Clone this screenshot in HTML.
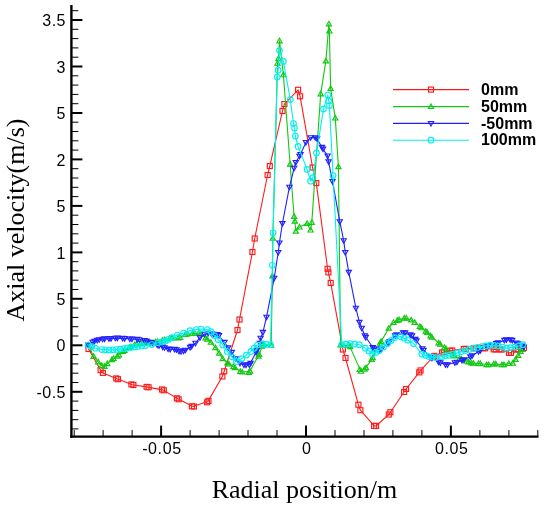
<!DOCTYPE html>
<html><head><meta charset="utf-8"><style>
html,body{margin:0;padding:0;background:#fff;}
svg{display:block;filter:blur(0.3px);}
.tl{font-family:"Liberation Sans",Arial,sans-serif;font-size:16px;fill:#000;}
.xl{letter-spacing:0.6px;}
.yl{letter-spacing:0.5px;}
.lg{font-family:"Liberation Sans",Arial,sans-serif;font-size:16px;font-weight:bold;letter-spacing:0px;fill:#000;}
.tt{font-family:"Liberation Serif","Times New Roman",serif;font-size:26px;fill:#000;}
polyline{fill:none;stroke-width:1.1;stroke-linejoin:round;}
</style></head><body>
<svg width="550" height="510" viewBox="0 0 550 510">
<rect width="550" height="510" fill="#fff"/>
<line x1="71.4" y1="5.0" x2="71.4" y2="437.70000000000005" stroke="#000" stroke-width="2.4"/>
<line x1="70.2" y1="436.6" x2="538.5" y2="436.6" stroke="#000" stroke-width="2.2"/>
<line x1="74.2" y1="436.6" x2="74.2" y2="430.1" stroke="#000" stroke-width="1"/>
<line x1="103.1" y1="436.6" x2="103.1" y2="430.1" stroke="#000" stroke-width="1"/>
<line x1="132.1" y1="436.6" x2="132.1" y2="430.1" stroke="#000" stroke-width="1"/>
<line x1="161.1" y1="436.6" x2="161.1" y2="425.6" stroke="#000" stroke-width="2"/>
<line x1="190.1" y1="436.6" x2="190.1" y2="430.1" stroke="#000" stroke-width="1"/>
<line x1="219.1" y1="436.6" x2="219.1" y2="430.1" stroke="#000" stroke-width="1"/>
<line x1="248.0" y1="436.6" x2="248.0" y2="430.1" stroke="#000" stroke-width="1"/>
<line x1="277.0" y1="436.6" x2="277.0" y2="430.1" stroke="#000" stroke-width="1"/>
<line x1="306.0" y1="436.6" x2="306.0" y2="425.6" stroke="#000" stroke-width="2"/>
<line x1="335.0" y1="436.6" x2="335.0" y2="430.1" stroke="#000" stroke-width="1"/>
<line x1="364.0" y1="436.6" x2="364.0" y2="430.1" stroke="#000" stroke-width="1"/>
<line x1="392.9" y1="436.6" x2="392.9" y2="430.1" stroke="#000" stroke-width="1"/>
<line x1="421.9" y1="436.6" x2="421.9" y2="430.1" stroke="#000" stroke-width="1"/>
<line x1="450.9" y1="436.6" x2="450.9" y2="425.6" stroke="#000" stroke-width="2"/>
<line x1="479.9" y1="436.6" x2="479.9" y2="430.1" stroke="#000" stroke-width="1"/>
<line x1="508.9" y1="436.6" x2="508.9" y2="430.1" stroke="#000" stroke-width="1"/>
<line x1="537.8" y1="436.6" x2="537.8" y2="430.1" stroke="#000" stroke-width="1"/>
<line x1="71.4" y1="428.9" x2="78.4" y2="428.9" stroke="#000" stroke-width="1"/>
<line x1="71.4" y1="419.7" x2="78.4" y2="419.7" stroke="#000" stroke-width="1"/>
<line x1="71.4" y1="410.4" x2="78.4" y2="410.4" stroke="#000" stroke-width="1"/>
<line x1="71.4" y1="401.1" x2="78.4" y2="401.1" stroke="#000" stroke-width="1"/>
<line x1="71.4" y1="391.8" x2="82.4" y2="391.8" stroke="#000" stroke-width="2"/>
<line x1="71.4" y1="382.5" x2="78.4" y2="382.5" stroke="#000" stroke-width="1"/>
<line x1="71.4" y1="373.2" x2="78.4" y2="373.2" stroke="#000" stroke-width="1"/>
<line x1="71.4" y1="363.9" x2="78.4" y2="363.9" stroke="#000" stroke-width="1"/>
<line x1="71.4" y1="354.6" x2="78.4" y2="354.6" stroke="#000" stroke-width="1"/>
<line x1="71.4" y1="345.3" x2="82.4" y2="345.3" stroke="#000" stroke-width="2"/>
<line x1="71.4" y1="336.0" x2="78.4" y2="336.0" stroke="#000" stroke-width="1"/>
<line x1="71.4" y1="326.7" x2="78.4" y2="326.7" stroke="#000" stroke-width="1"/>
<line x1="71.4" y1="317.4" x2="78.4" y2="317.4" stroke="#000" stroke-width="1"/>
<line x1="71.4" y1="308.1" x2="78.4" y2="308.1" stroke="#000" stroke-width="1"/>
<line x1="71.4" y1="298.8" x2="82.4" y2="298.8" stroke="#000" stroke-width="2"/>
<line x1="71.4" y1="289.5" x2="78.4" y2="289.5" stroke="#000" stroke-width="1"/>
<line x1="71.4" y1="280.2" x2="78.4" y2="280.2" stroke="#000" stroke-width="1"/>
<line x1="71.4" y1="270.9" x2="78.4" y2="270.9" stroke="#000" stroke-width="1"/>
<line x1="71.4" y1="261.7" x2="78.4" y2="261.7" stroke="#000" stroke-width="1"/>
<line x1="71.4" y1="252.4" x2="82.4" y2="252.4" stroke="#000" stroke-width="2"/>
<line x1="71.4" y1="243.1" x2="78.4" y2="243.1" stroke="#000" stroke-width="1"/>
<line x1="71.4" y1="233.8" x2="78.4" y2="233.8" stroke="#000" stroke-width="1"/>
<line x1="71.4" y1="224.5" x2="78.4" y2="224.5" stroke="#000" stroke-width="1"/>
<line x1="71.4" y1="215.2" x2="78.4" y2="215.2" stroke="#000" stroke-width="1"/>
<line x1="71.4" y1="205.9" x2="82.4" y2="205.9" stroke="#000" stroke-width="2"/>
<line x1="71.4" y1="196.6" x2="78.4" y2="196.6" stroke="#000" stroke-width="1"/>
<line x1="71.4" y1="187.3" x2="78.4" y2="187.3" stroke="#000" stroke-width="1"/>
<line x1="71.4" y1="178.0" x2="78.4" y2="178.0" stroke="#000" stroke-width="1"/>
<line x1="71.4" y1="168.7" x2="78.4" y2="168.7" stroke="#000" stroke-width="1"/>
<line x1="71.4" y1="159.4" x2="82.4" y2="159.4" stroke="#000" stroke-width="2"/>
<line x1="71.4" y1="150.1" x2="78.4" y2="150.1" stroke="#000" stroke-width="1"/>
<line x1="71.4" y1="140.8" x2="78.4" y2="140.8" stroke="#000" stroke-width="1"/>
<line x1="71.4" y1="131.5" x2="78.4" y2="131.5" stroke="#000" stroke-width="1"/>
<line x1="71.4" y1="122.2" x2="78.4" y2="122.2" stroke="#000" stroke-width="1"/>
<line x1="71.4" y1="113.0" x2="82.4" y2="113.0" stroke="#000" stroke-width="2"/>
<line x1="71.4" y1="103.7" x2="78.4" y2="103.7" stroke="#000" stroke-width="1"/>
<line x1="71.4" y1="94.4" x2="78.4" y2="94.4" stroke="#000" stroke-width="1"/>
<line x1="71.4" y1="85.1" x2="78.4" y2="85.1" stroke="#000" stroke-width="1"/>
<line x1="71.4" y1="75.8" x2="78.4" y2="75.8" stroke="#000" stroke-width="1"/>
<line x1="71.4" y1="66.5" x2="82.4" y2="66.5" stroke="#000" stroke-width="2"/>
<line x1="71.4" y1="57.2" x2="78.4" y2="57.2" stroke="#000" stroke-width="1"/>
<line x1="71.4" y1="47.9" x2="78.4" y2="47.9" stroke="#000" stroke-width="1"/>
<line x1="71.4" y1="38.6" x2="78.4" y2="38.6" stroke="#000" stroke-width="1"/>
<line x1="71.4" y1="29.3" x2="78.4" y2="29.3" stroke="#000" stroke-width="1"/>
<line x1="71.4" y1="20.0" x2="82.4" y2="20.0" stroke="#000" stroke-width="2"/>
<line x1="71.4" y1="10.7" x2="78.4" y2="10.7" stroke="#000" stroke-width="1"/>
<text x="66.0" y="26.1" text-anchor="end" class="tl yl">3.5</text>
<text x="66.0" y="72.6" text-anchor="end" class="tl yl">3</text>
<text x="66.0" y="119.1" text-anchor="end" class="tl yl">5</text>
<text x="66.0" y="165.5" text-anchor="end" class="tl yl">2</text>
<text x="66.0" y="212.0" text-anchor="end" class="tl yl">5</text>
<text x="66.0" y="258.5" text-anchor="end" class="tl yl">1</text>
<text x="66.0" y="304.9" text-anchor="end" class="tl yl">5</text>
<text x="66.0" y="351.4" text-anchor="end" class="tl yl">0</text>
<text x="66.0" y="397.9" text-anchor="end" class="tl yl">-0.5</text>
<text x="161.9" y="453.8" text-anchor="middle" class="tl xl">-0.05</text>
<text x="306.8" y="453.8" text-anchor="middle" class="tl xl">0</text>
<text x="451.7" y="453.8" text-anchor="middle" class="tl xl">0.05</text>
<text x="304.5" y="497.8" text-anchor="middle" class="tt">Radial position/m</text>
<text transform="translate(24.3,220) rotate(-90)" text-anchor="middle" class="tt">Axial velocity(m/s)</text>
<polyline points="88.5,349.0 100.6,370.1 102.9,372.9 117.1,378.8 132.4,384.7 147.6,387.1 162.9,389.9 177.8,398.8 192.9,406.4 207.8,401.6 222.4,376.5 224.2,371.3 237.5,330.0 239.5,319.5 252.4,252.0 254.7,238.5 267.6,175.0 269.8,166.0 282.5,111.0 284.4,104.1 298.1,89.8 300.1,96.3 312.6,167.5 316.3,183.1 327.6,268.8 328.4,272.4 330.7,282.9 342.9,349.5 345.5,358.0 358.4,404.7 360.4,410.2 374.1,425.9 376.1,425.9 388.8,414.5 390.4,412.2 404.1,392.0 406.1,389.0 419.2,372.4 420.6,370.4 433.5,356.5 442.9,352.2 451.2,350.6 464.8,348.9 474.7,348.2 484.1,348.2 494.7,349.4 500.6,349.4 510.0,352.9 517.1,349.4 522.9,348.2" stroke="#ff1a1a"/>
<g stroke="#ff1a1a" fill="none" stroke-width="1.15"><rect x="86.0" y="346.5" width="5.0" height="5.0"/><rect x="98.1" y="367.6" width="5.0" height="5.0"/><rect x="100.4" y="370.4" width="5.0" height="5.0"/><rect x="113.7" y="375.9" width="5.0" height="5.0"/><rect x="115.5" y="376.7" width="5.0" height="5.0"/><rect x="128.9" y="381.9" width="5.0" height="5.0"/><rect x="130.9" y="382.5" width="5.0" height="5.0"/><rect x="144.1" y="384.4" width="5.0" height="5.0"/><rect x="146.1" y="384.8" width="5.0" height="5.0"/><rect x="159.5" y="387.0" width="5.0" height="5.0"/><rect x="161.3" y="387.8" width="5.0" height="5.0"/><rect x="174.4" y="395.8" width="5.0" height="5.0"/><rect x="176.2" y="396.8" width="5.0" height="5.0"/><rect x="189.4" y="403.8" width="5.0" height="5.0"/><rect x="191.4" y="404.0" width="5.0" height="5.0"/><rect x="204.6" y="399.8" width="5.0" height="5.0"/><rect x="206.0" y="398.4" width="5.0" height="5.0"/><rect x="219.9" y="374.0" width="5.0" height="5.0"/><rect x="221.7" y="368.8" width="5.0" height="5.0"/><rect x="235.0" y="327.5" width="5.0" height="5.0"/><rect x="237.0" y="317.0" width="5.0" height="5.0"/><rect x="249.9" y="249.5" width="5.0" height="5.0"/><rect x="252.2" y="236.0" width="5.0" height="5.0"/><rect x="265.1" y="172.5" width="5.0" height="5.0"/><rect x="267.3" y="163.5" width="5.0" height="5.0"/><rect x="280.0" y="108.5" width="5.0" height="5.0"/><rect x="281.9" y="101.6" width="5.0" height="5.0"/><rect x="295.6" y="87.3" width="5.0" height="5.0"/><rect x="297.6" y="93.8" width="5.0" height="5.0"/><rect x="310.1" y="165.0" width="5.0" height="5.0"/><rect x="313.8" y="180.6" width="5.0" height="5.0"/><rect x="325.1" y="266.3" width="5.0" height="5.0"/><rect x="325.9" y="269.9" width="5.0" height="5.0"/><rect x="328.2" y="280.4" width="5.0" height="5.0"/><rect x="340.4" y="347.0" width="5.0" height="5.0"/><rect x="343.0" y="355.5" width="5.0" height="5.0"/><rect x="355.9" y="402.2" width="5.0" height="5.0"/><rect x="357.9" y="407.7" width="5.0" height="5.0"/><rect x="371.6" y="423.4" width="5.0" height="5.0"/><rect x="373.6" y="423.4" width="5.0" height="5.0"/><rect x="386.3" y="412.0" width="5.0" height="5.0"/><rect x="387.9" y="409.7" width="5.0" height="5.0"/><rect x="401.6" y="389.5" width="5.0" height="5.0"/><rect x="403.6" y="386.5" width="5.0" height="5.0"/><rect x="416.7" y="369.9" width="5.0" height="5.0"/><rect x="418.1" y="367.9" width="5.0" height="5.0"/><rect x="430.2" y="354.6" width="5.0" height="5.0"/><rect x="431.8" y="353.4" width="5.0" height="5.0"/><rect x="439.5" y="350.0" width="5.0" height="5.0"/><rect x="441.3" y="349.4" width="5.0" height="5.0"/><rect x="447.7" y="348.2" width="5.0" height="5.0"/><rect x="449.7" y="348.0" width="5.0" height="5.0"/><rect x="461.3" y="346.5" width="5.0" height="5.0"/><rect x="463.3" y="346.3" width="5.0" height="5.0"/><rect x="471.2" y="345.7" width="5.0" height="5.0"/><rect x="473.2" y="345.7" width="5.0" height="5.0"/><rect x="480.6" y="345.6" width="5.0" height="5.0"/><rect x="482.6" y="345.8" width="5.0" height="5.0"/><rect x="491.2" y="346.8" width="5.0" height="5.0"/><rect x="493.2" y="347.0" width="5.0" height="5.0"/><rect x="497.1" y="346.7" width="5.0" height="5.0"/><rect x="499.1" y="347.1" width="5.0" height="5.0"/><rect x="506.5" y="350.4" width="5.0" height="5.0"/><rect x="508.5" y="350.4" width="5.0" height="5.0"/><rect x="513.7" y="347.2" width="5.0" height="5.0"/><rect x="515.5" y="346.6" width="5.0" height="5.0"/><rect x="519.4" y="345.9" width="5.0" height="5.0"/><rect x="521.4" y="345.5" width="5.0" height="5.0"/></g>

<polyline points="88.2,345.0 93.6,356.4 98.2,361.8 101.8,365.5 104.5,366.5 107.3,363.6 112.7,359.1 118.2,355.5 123.6,350.9 130.0,347.3 135.5,344.5 141.8,343.3 149.1,342.7 156.4,341.8 163.6,340.0 170.9,338.2 179.1,337.7 186.4,334.1 193.6,333.2 200.0,333.2 206.4,338.6 210.9,342.3 215.5,347.7 219.1,353.2 222.7,358.6 228.2,363.5 234.1,367.1 241.2,371.8 249.4,371.8 258.8,355.3 262.6,345.6 271.2,345.3 272.4,275.9 272.8,238.2 277.5,63.3 278.5,58.4 279.5,40.8 283.4,74.7 290.1,164.2 294.1,216.5 294.8,221.2 295.8,231.2 299.5,227.1 307.1,223.5 310.6,230.1 311.8,222.4 320.7,93.8 325.9,60.9 328.9,23.9 329.4,31.0 330.6,88.4 335.3,118.1 338.4,166.7 340.6,345.0 349.6,345.9 360.4,370.4 365.3,368.4 372.2,358.6 380.6,342.4 388.8,328.2 393.5,322.4 398.2,320.0 405.3,318.1 411.2,320.0 414.7,322.4 420.6,327.1 426.5,331.8 431.2,336.5 439.4,343.5 445.3,348.2 453.5,355.3 460.6,358.8 467.6,361.6 472.4,363.1 479.4,363.5 487.6,364.7 494.7,364.0 502.9,364.7 508.8,363.5 512.7,363.2 515.5,359.5 518.2,355.5 520.5,351.5 522.5,349.5" stroke="#12c812"/>
<g stroke="#12c812" fill="none" stroke-width="1.15"><path d="M88.2,342.4L90.8,346.9L85.6,346.9Z"/><path d="M93.6,353.8L96.2,358.3L91.0,358.3Z"/><path d="M98.2,359.2L100.8,363.8L95.6,363.8Z"/><path d="M101.8,362.9L104.4,367.4L99.2,367.4Z"/><path d="M104.5,363.9L107.1,368.4L101.9,368.4Z"/><path d="M107.3,361.0L109.9,365.6L104.7,365.6Z"/><path d="M111.9,357.1L114.5,361.6L109.3,361.6Z"/><path d="M113.5,355.9L116.1,360.5L110.9,360.5Z"/><path d="M117.4,353.5L120.0,358.1L114.8,358.1Z"/><path d="M119.0,352.3L121.6,356.8L116.4,356.8Z"/><path d="M122.8,348.9L125.4,353.4L120.2,353.4Z"/><path d="M124.4,347.7L127.0,352.3L121.8,352.3Z"/><path d="M129.1,345.2L131.7,349.7L126.5,349.7Z"/><path d="M130.9,344.2L133.5,348.8L128.3,348.8Z"/><path d="M134.6,342.2L137.2,346.8L132.0,346.8Z"/><path d="M136.4,341.6L139.0,346.1L133.8,346.1Z"/><path d="M140.8,340.8L143.4,345.4L138.2,345.4Z"/><path d="M142.8,340.6L145.4,345.1L140.2,345.1Z"/><path d="M148.1,340.2L150.7,344.8L145.5,344.8Z"/><path d="M150.1,340.0L152.7,344.5L147.5,344.5Z"/><path d="M155.4,339.4L158.0,343.9L152.8,343.9Z"/><path d="M157.4,339.0L160.0,343.6L154.8,343.6Z"/><path d="M162.6,337.6L165.2,342.2L160.0,342.2Z"/><path d="M164.6,337.2L167.2,341.7L162.0,341.7Z"/><path d="M169.9,335.7L172.5,340.3L167.3,340.3Z"/><path d="M171.9,335.5L174.5,340.0L169.3,340.0Z"/><path d="M178.1,335.4L180.7,339.9L175.5,339.9Z"/><path d="M180.1,334.8L182.7,339.4L177.5,339.4Z"/><path d="M185.4,331.8L188.0,336.3L182.8,336.3Z"/><path d="M187.4,331.2L190.0,335.8L184.8,335.8Z"/><path d="M192.6,330.7L195.2,335.2L190.0,335.2Z"/><path d="M194.6,330.5L197.2,335.1L192.0,335.1Z"/><path d="M199.1,330.2L201.7,334.8L196.5,334.8Z"/><path d="M200.9,331.0L203.5,335.5L198.3,335.5Z"/><path d="M205.6,335.4L208.2,339.9L203.0,339.9Z"/><path d="M207.2,336.6L209.8,341.2L204.6,341.2Z"/><path d="M210.9,339.7L213.5,344.2L208.3,344.2Z"/><path d="M215.5,345.1L218.1,349.6L212.9,349.6Z"/><path d="M219.1,350.6L221.7,355.1L216.5,355.1Z"/><path d="M222.7,356.0L225.3,360.6L220.1,360.6Z"/><path d="M227.4,360.3L230.0,364.9L224.8,364.9Z"/><path d="M229.0,361.5L231.6,366.0L226.4,366.0Z"/><path d="M233.3,364.0L235.9,368.5L230.7,368.5Z"/><path d="M234.9,365.0L237.5,369.6L232.3,369.6Z"/><path d="M240.2,368.9L242.8,373.5L237.6,373.5Z"/><path d="M242.2,369.5L244.8,374.0L239.6,374.0Z"/><path d="M248.7,369.9L251.3,374.4L246.1,374.4Z"/><path d="M250.1,368.5L252.7,373.1L247.5,373.1Z"/><path d="M258.4,353.6L261.0,358.1L255.8,358.1Z"/><path d="M259.2,351.8L261.8,356.4L256.6,356.4Z"/><path d="M261.8,343.6L264.4,348.2L259.2,348.2Z"/><path d="M263.4,342.4L266.0,346.9L260.8,346.9Z"/><path d="M271.2,342.7L273.8,347.2L268.6,347.2Z"/><path d="M272.4,273.3L275.0,277.8L269.8,277.8Z"/><path d="M272.8,235.6L275.4,240.1L270.2,240.1Z"/><path d="M277.5,60.7L280.1,65.2L274.9,65.2Z"/><path d="M278.5,55.8L281.1,60.4L275.9,60.4Z"/><path d="M279.5,38.2L282.1,42.8L276.9,42.8Z"/><path d="M283.4,72.1L286.0,76.7L280.8,76.7Z"/><path d="M290.1,161.6L292.7,166.1L287.5,166.1Z"/><path d="M294.1,213.9L296.7,218.4L291.5,218.4Z"/><path d="M294.8,218.6L297.4,223.1L292.2,223.1Z"/><path d="M295.8,228.6L298.4,233.1L293.2,233.1Z"/><path d="M299.5,224.5L302.1,229.0L296.9,229.0Z"/><path d="M307.1,220.9L309.7,225.4L304.5,225.4Z"/><path d="M310.6,227.5L313.2,232.0L308.0,232.0Z"/><path d="M311.8,219.8L314.4,224.3L309.2,224.3Z"/><path d="M320.7,91.2L323.3,95.8L318.1,95.8Z"/><path d="M325.9,58.3L328.5,62.9L323.3,62.9Z"/><path d="M328.9,21.3L331.5,25.8L326.3,25.8Z"/><path d="M329.4,28.4L332.0,33.0L326.8,33.0Z"/><path d="M330.6,85.8L333.2,90.4L328.0,90.4Z"/><path d="M335.3,115.5L337.9,120.0L332.7,120.0Z"/><path d="M338.4,164.1L341.0,168.6L335.8,168.6Z"/><path d="M340.6,342.4L343.2,346.9L338.0,346.9Z"/><path d="M349.0,342.5L351.6,347.1L346.4,347.1Z"/><path d="M350.2,344.1L352.8,348.6L347.6,348.6Z"/><path d="M359.8,367.0L362.4,371.5L357.2,371.5Z"/><path d="M361.0,368.6L363.6,373.2L358.4,373.2Z"/><path d="M364.6,366.5L367.2,371.1L362.0,371.1Z"/><path d="M366.0,365.1L368.6,369.6L363.4,369.6Z"/><path d="M371.7,356.9L374.3,361.4L369.1,361.4Z"/><path d="M372.7,355.1L375.3,359.7L370.1,359.7Z"/><path d="M380.1,340.7L382.7,345.2L377.5,345.2Z"/><path d="M381.1,338.9L383.7,343.5L378.5,343.5Z"/><path d="M388.8,325.6L391.4,330.1L386.2,330.1Z"/><path d="M393.5,319.8L396.1,324.3L390.9,324.3Z"/><path d="M397.3,317.7L399.9,322.3L394.7,322.3Z"/><path d="M399.1,317.1L401.7,321.6L396.5,321.6Z"/><path d="M404.3,315.5L406.9,320.1L401.7,320.1Z"/><path d="M406.3,315.5L408.9,320.1L403.7,320.1Z"/><path d="M411.2,317.4L413.8,321.9L408.6,321.9Z"/><path d="M414.7,319.8L417.3,324.3L412.1,324.3Z"/><path d="M419.8,323.9L422.4,328.4L417.2,328.4Z"/><path d="M421.4,325.1L424.0,329.7L418.8,329.7Z"/><path d="M425.8,328.5L428.4,333.1L423.2,333.1Z"/><path d="M427.2,329.9L429.8,334.4L424.6,334.4Z"/><path d="M430.5,333.2L433.1,337.8L427.9,337.8Z"/><path d="M431.9,334.6L434.5,339.1L429.3,339.1Z"/><path d="M438.6,340.3L441.2,344.8L436.0,344.8Z"/><path d="M440.2,341.5L442.8,346.1L437.6,346.1Z"/><path d="M444.5,345.0L447.1,349.5L441.9,349.5Z"/><path d="M446.1,346.2L448.7,350.8L443.5,350.8Z"/><path d="M452.7,352.1L455.3,356.7L450.1,356.7Z"/><path d="M454.3,353.3L456.9,357.8L451.7,357.8Z"/><path d="M459.7,355.8L462.3,360.3L457.1,360.3Z"/><path d="M461.5,356.6L464.1,361.2L458.9,361.2Z"/><path d="M466.7,358.7L469.3,363.2L464.1,363.2Z"/><path d="M468.5,359.3L471.1,363.9L465.9,363.9Z"/><path d="M471.4,360.3L474.0,364.9L468.8,364.9Z"/><path d="M473.4,360.7L476.0,365.2L470.8,365.2Z"/><path d="M478.4,360.8L481.0,365.3L475.8,365.3Z"/><path d="M480.4,361.0L483.0,365.6L477.8,365.6Z"/><path d="M486.6,362.1L489.2,366.6L484.0,366.6Z"/><path d="M488.6,362.1L491.2,366.7L486.0,366.7Z"/><path d="M493.7,361.4L496.3,365.9L491.1,365.9Z"/><path d="M495.7,361.4L498.3,365.9L493.1,365.9Z"/><path d="M501.9,362.1L504.5,366.7L499.3,366.7Z"/><path d="M503.9,362.1L506.5,366.6L501.3,366.6Z"/><path d="M508.8,360.9L511.4,365.4L506.2,365.4Z"/><path d="M512.7,360.6L515.3,365.1L510.1,365.1Z"/><path d="M515.5,356.9L518.1,361.4L512.9,361.4Z"/><path d="M518.2,352.9L520.8,357.4L515.6,357.4Z"/><path d="M520.5,348.9L523.1,353.4L517.9,353.4Z"/><path d="M522.5,346.9L525.1,351.4L519.9,351.4Z"/></g>

<polyline points="88.2,345.0 93.6,341.7 98.2,339.9 103.6,339.0 110.0,338.6 116.4,338.1 123.6,338.4 130.9,339.0 138.2,339.5 145.5,340.8 151.8,342.6 158.2,345.3 163.6,347.3 169.1,349.1 175.5,349.5 180.0,351.4 184.5,350.5 190.9,346.8 195.5,343.2 200.0,337.7 204.5,334.1 208.2,333.2 212.7,334.1 218.2,335.0 224.5,342.3 228.2,347.7 231.8,352.3 235.5,358.6 240.0,363.2 245.0,365.0 250.0,364.1 256.4,351.4 260.0,343.2 260.6,338.2 262.9,332.4 266.5,317.1 274.2,278.2 278.2,252.4 279.4,242.9 282.4,223.5 289.4,187.1 294.1,168.2 295.8,162.4 300.0,155.3 305.9,142.4 310.6,137.6 315.3,137.6 317.1,138.8 322.5,148.2 327.6,155.9 328.6,161.8 332.5,181.4 339.8,221.6 343.7,240.6 345.3,252.4 348.8,272.4 355.9,308.2 359.4,322.4 361.8,328.2 365.3,336.5 373.5,348.2 380.6,349.4 388.8,342.4 395.9,335.3 404.1,332.9 411.2,335.3 415.9,340.0 422.9,349.4 431.2,357.6 439.4,362.4 446.5,364.7 455.9,362.4 462.9,360.0 471.2,356.3 479.4,351.0 487.6,346.2 497.1,343.2 505.3,340.0 511.2,340.0 517.1,343.4 522.9,346.5" stroke="#2020ff"/>
<g stroke="#2020ff" fill="none" stroke-width="1.15"><path d="M88.2,347.6L90.8,343.1L85.6,343.1Z"/><path d="M92.7,344.8L95.3,340.2L90.1,340.2Z"/><path d="M94.5,343.8L97.1,339.3L91.9,339.3Z"/><path d="M97.2,342.8L99.8,338.2L94.6,338.2Z"/><path d="M99.2,342.2L101.8,337.7L96.6,337.7Z"/><path d="M102.6,341.7L105.2,337.2L100.0,337.2Z"/><path d="M104.6,341.5L107.2,336.9L102.0,336.9Z"/><path d="M109.0,341.3L111.6,336.7L106.4,336.7Z"/><path d="M111.0,341.1L113.6,336.6L108.4,336.6Z"/><path d="M115.4,340.7L118.0,336.2L112.8,336.2Z"/><path d="M117.4,340.7L120.0,336.1L114.8,336.1Z"/><path d="M122.6,340.9L125.2,336.4L120.0,336.4Z"/><path d="M124.6,341.1L127.2,336.5L122.0,336.5Z"/><path d="M129.9,341.5L132.5,337.0L127.3,337.0Z"/><path d="M131.9,341.7L134.5,337.1L129.3,337.1Z"/><path d="M137.2,342.0L139.8,337.4L134.6,337.4Z"/><path d="M139.2,342.2L141.8,337.7L136.6,337.7Z"/><path d="M144.5,343.2L147.1,338.6L141.9,338.6Z"/><path d="M146.5,343.6L149.1,339.1L143.9,339.1Z"/><path d="M150.9,344.9L153.5,340.3L148.3,340.3Z"/><path d="M152.7,345.5L155.3,341.0L150.1,341.0Z"/><path d="M157.3,347.5L159.9,343.0L154.7,343.0Z"/><path d="M159.1,348.3L161.7,343.7L156.5,343.7Z"/><path d="M162.7,349.6L165.3,345.0L160.1,345.0Z"/><path d="M164.5,350.2L167.1,345.7L161.9,345.7Z"/><path d="M168.1,351.5L170.7,347.0L165.5,347.0Z"/><path d="M170.1,351.9L172.7,347.3L167.5,347.3Z"/><path d="M174.5,351.9L177.1,347.3L171.9,347.3Z"/><path d="M176.5,352.3L179.1,347.8L173.9,347.8Z"/><path d="M179.0,353.9L181.6,349.3L176.4,349.3Z"/><path d="M181.0,354.1L183.6,349.6L178.4,349.6Z"/><path d="M183.6,353.5L186.2,348.9L181.0,348.9Z"/><path d="M185.4,352.7L188.0,348.2L182.8,348.2Z"/><path d="M190.1,350.0L192.7,345.4L187.5,345.4Z"/><path d="M191.7,348.8L194.3,344.3L189.1,344.3Z"/><path d="M195.5,345.8L198.1,341.2L192.9,341.2Z"/><path d="M200.0,340.3L202.6,335.8L197.4,335.8Z"/><path d="M204.5,336.7L207.1,332.2L201.9,332.2Z"/><path d="M208.2,335.8L210.8,331.2L205.6,331.2Z"/><path d="M211.7,336.5L214.3,332.0L209.1,332.0Z"/><path d="M213.7,336.9L216.3,332.3L211.1,332.3Z"/><path d="M217.4,337.0L220.0,332.5L214.8,332.5Z"/><path d="M219.0,338.2L221.6,333.6L216.4,333.6Z"/><path d="M224.5,344.9L227.1,340.4L221.9,340.4Z"/><path d="M228.2,350.3L230.8,345.8L225.6,345.8Z"/><path d="M231.8,354.9L234.4,350.4L229.2,350.4Z"/><path d="M235.5,361.2L238.1,356.7L232.9,356.7Z"/><path d="M240.0,365.8L242.6,361.2L237.4,361.2Z"/><path d="M244.0,367.5L246.6,363.0L241.4,363.0Z"/><path d="M246.0,367.7L248.6,363.1L243.4,363.1Z"/><path d="M249.4,367.5L252.0,362.9L246.8,362.9Z"/><path d="M250.6,365.9L253.2,361.4L248.0,361.4Z"/><path d="M256.0,354.9L258.6,350.4L253.4,350.4Z"/><path d="M256.8,353.1L259.4,348.5L254.2,348.5Z"/><path d="M260.0,345.8L262.6,341.2L257.4,341.2Z"/><path d="M260.6,340.8L263.2,336.2L258.0,336.2Z"/><path d="M262.9,335.0L265.5,330.4L260.3,330.4Z"/><path d="M266.5,319.7L269.1,315.2L263.9,315.2Z"/><path d="M274.2,280.8L276.8,276.2L271.6,276.2Z"/><path d="M278.2,255.0L280.8,250.5L275.6,250.5Z"/><path d="M279.4,245.5L282.0,241.0L276.8,241.0Z"/><path d="M282.4,226.1L285.0,221.6L279.8,221.6Z"/><path d="M289.4,189.7L292.0,185.2L286.8,185.2Z"/><path d="M294.1,170.8L296.7,166.2L291.5,166.2Z"/><path d="M295.8,165.0L298.4,160.5L293.2,160.5Z"/><path d="M299.5,158.8L302.1,154.2L296.9,154.2Z"/><path d="M300.5,157.0L303.1,152.5L297.9,152.5Z"/><path d="M305.9,145.0L308.5,140.5L303.3,140.5Z"/><path d="M310.6,140.2L313.2,135.7L308.0,135.7Z"/><path d="M315.3,140.2L317.9,135.7L312.7,135.7Z"/><path d="M317.1,141.4L319.7,136.9L314.5,136.9Z"/><path d="M322.0,149.9L324.6,145.4L319.4,145.4Z"/><path d="M323.0,151.7L325.6,147.1L320.4,147.1Z"/><path d="M327.6,158.5L330.2,154.0L325.0,154.0Z"/><path d="M328.6,164.4L331.2,159.9L326.0,159.9Z"/><path d="M332.5,184.0L335.1,179.5L329.9,179.5Z"/><path d="M339.8,224.2L342.4,219.7L337.2,219.7Z"/><path d="M343.7,243.2L346.3,238.7L341.1,238.7Z"/><path d="M345.3,255.0L347.9,250.5L342.7,250.5Z"/><path d="M348.8,275.0L351.4,270.4L346.2,270.4Z"/><path d="M355.9,310.8L358.5,306.2L353.3,306.2Z"/><path d="M359.4,325.0L362.0,320.4L356.8,320.4Z"/><path d="M361.8,330.8L364.4,326.2L359.2,326.2Z"/><path d="M364.8,338.2L367.4,333.7L362.2,333.7Z"/><path d="M365.8,340.0L368.4,335.4L363.2,335.4Z"/><path d="M372.7,350.2L375.3,345.6L370.1,345.6Z"/><path d="M374.3,351.4L376.9,346.9L371.7,346.9Z"/><path d="M379.7,352.4L382.3,347.8L377.1,347.8Z"/><path d="M381.5,351.6L384.1,347.1L378.9,347.1Z"/><path d="M388.1,345.7L390.7,341.1L385.5,341.1Z"/><path d="M389.5,344.3L392.1,339.8L386.9,339.8Z"/><path d="M395.1,338.4L397.7,333.9L392.5,333.9Z"/><path d="M396.7,337.4L399.3,332.8L394.1,332.8Z"/><path d="M403.1,335.5L405.7,330.9L400.5,330.9Z"/><path d="M405.1,335.5L407.7,330.9L402.5,330.9Z"/><path d="M410.3,337.4L412.9,332.8L407.7,332.8Z"/><path d="M412.1,338.4L414.7,333.9L409.5,333.9Z"/><path d="M415.3,341.8L417.9,337.3L412.7,337.3Z"/><path d="M416.5,343.4L419.1,338.8L413.9,338.8Z"/><path d="M422.2,351.2L424.8,346.7L419.6,346.7Z"/><path d="M423.6,352.8L426.2,348.2L421.0,348.2Z"/><path d="M430.4,359.6L433.0,355.0L427.8,355.0Z"/><path d="M432.0,360.8L434.6,356.3L429.4,356.3Z"/><path d="M438.5,364.6L441.1,360.0L435.9,360.0Z"/><path d="M440.3,365.4L442.9,360.9L437.7,360.9Z"/><path d="M445.5,367.3L448.1,362.8L442.9,362.8Z"/><path d="M447.5,367.3L450.1,362.8L444.9,362.8Z"/><path d="M454.9,365.3L457.5,360.7L452.3,360.7Z"/><path d="M456.9,364.7L459.5,360.2L454.3,360.2Z"/><path d="M462.0,363.0L464.6,358.4L459.4,358.4Z"/><path d="M463.8,362.2L466.4,357.7L461.2,357.7Z"/><path d="M470.3,359.4L472.9,354.8L467.7,354.8Z"/><path d="M472.1,358.4L474.7,353.9L469.5,353.9Z"/><path d="M478.5,354.1L481.1,349.6L475.9,349.6Z"/><path d="M480.3,353.1L482.9,348.5L477.7,348.5Z"/><path d="M486.7,349.2L489.3,344.7L484.1,344.7Z"/><path d="M488.5,348.4L491.1,343.8L485.9,343.8Z"/><path d="M496.2,346.1L498.8,341.6L493.6,341.6Z"/><path d="M498.0,345.5L500.6,340.9L495.4,340.9Z"/><path d="M504.3,342.8L506.9,338.3L501.7,338.3Z"/><path d="M506.3,342.4L508.9,337.8L503.7,337.8Z"/><path d="M510.2,342.3L512.8,337.8L507.6,337.8Z"/><path d="M512.2,342.9L514.8,338.3L509.6,338.3Z"/><path d="M516.2,345.5L518.8,341.0L513.6,341.0Z"/><path d="M518.0,346.5L520.6,341.9L515.4,341.9Z"/><path d="M522.0,348.6L524.6,344.1L519.4,344.1Z"/><path d="M523.8,349.6L526.4,345.0L521.2,345.0Z"/></g>

<polyline points="88.2,345.0 95.5,348.2 101.8,349.5 109.1,350.0 116.4,349.5 123.6,348.7 130.9,347.3 138.2,346.4 145.5,345.5 151.8,344.5 158.2,342.7 165.5,340.9 171.8,337.7 177.3,335.0 183.6,333.0 190.0,330.6 196.4,329.5 200.9,329.0 207.3,329.5 210.9,331.6 214.5,335.6 218.2,339.5 222.7,345.0 227.3,351.4 231.8,356.8 236.4,361.4 241.8,358.6 246.4,355.0 250.9,351.4 257.3,345.0 262.7,344.1 270.5,344.7 272.4,265.3 273.1,232.8 277.2,77.1 278.1,70.2 279.5,50.6 283.4,61.4 290.3,99.6 293.5,123.5 294.5,128.0 295.3,136.0 298.1,146.4 307.1,169.4 310.6,181.2 312.9,177.6 316.5,152.9 323.5,109.1 327.8,95.0 328.7,100.9 329.4,105.6 333.1,175.5 341.8,344.7 350.0,343.5 359.4,344.7 365.3,348.2 372.4,354.1 379.4,350.6 387.6,343.5 394.7,337.6 400.6,336.5 407.6,340.0 413.5,343.5 421.8,354.1 428.8,356.5 435.9,357.6 441.8,356.5 448.8,355.3 457.1,352.9 465.3,350.6 473.5,348.2 481.8,346.6 490.0,345.2 498.2,345.9 506.5,348.2 514.7,347.1 522.9,344.7" stroke="#00f0f0"/>
<g stroke="#00f0f0" fill="none" stroke-width="1.15"><circle cx="88.2" cy="345.0" r="2.8"/><circle cx="91.8" cy="346.6" r="2.8"/><circle cx="95.5" cy="348.2" r="2.8"/><circle cx="101.8" cy="349.5" r="2.8"/><circle cx="105.4" cy="349.8" r="2.8"/><circle cx="109.1" cy="350.0" r="2.8"/><circle cx="112.8" cy="349.8" r="2.8"/><circle cx="116.4" cy="349.5" r="2.8"/><circle cx="120.0" cy="349.1" r="2.8"/><circle cx="123.6" cy="348.7" r="2.8"/><circle cx="127.2" cy="348.0" r="2.8"/><circle cx="130.9" cy="347.3" r="2.8"/><circle cx="134.6" cy="346.9" r="2.8"/><circle cx="138.2" cy="346.4" r="2.8"/><circle cx="141.8" cy="345.9" r="2.8"/><circle cx="145.5" cy="345.5" r="2.8"/><circle cx="151.8" cy="344.5" r="2.8"/><circle cx="158.2" cy="342.7" r="2.8"/><circle cx="161.8" cy="341.8" r="2.8"/><circle cx="165.5" cy="340.9" r="2.8"/><circle cx="168.7" cy="339.3" r="2.8"/><circle cx="171.8" cy="337.7" r="2.8"/><circle cx="177.3" cy="335.0" r="2.8"/><circle cx="183.6" cy="333.0" r="2.8"/><circle cx="190.0" cy="330.6" r="2.8"/><circle cx="196.4" cy="329.5" r="2.8"/><circle cx="200.9" cy="329.0" r="2.8"/><circle cx="207.3" cy="329.5" r="2.8"/><circle cx="210.9" cy="331.6" r="2.8"/><circle cx="214.5" cy="335.6" r="2.8"/><circle cx="218.2" cy="339.5" r="2.8"/><circle cx="222.7" cy="345.0" r="2.8"/><circle cx="227.3" cy="351.4" r="2.8"/><circle cx="231.8" cy="356.8" r="2.8"/><circle cx="236.4" cy="361.4" r="2.8"/><circle cx="241.8" cy="358.6" r="2.8"/><circle cx="246.4" cy="355.0" r="2.8"/><circle cx="250.9" cy="351.4" r="2.8"/><circle cx="254.1" cy="348.2" r="2.8"/><circle cx="257.3" cy="345.0" r="2.8"/><circle cx="262.7" cy="344.1" r="2.8"/><circle cx="266.6" cy="344.4" r="2.8"/><circle cx="270.5" cy="344.7" r="2.8"/><circle cx="272.4" cy="265.3" r="2.8"/><circle cx="273.1" cy="232.8" r="2.8"/><circle cx="277.2" cy="77.1" r="2.8"/><circle cx="278.1" cy="70.2" r="2.8"/><circle cx="279.5" cy="50.6" r="2.8"/><circle cx="283.4" cy="61.4" r="2.8"/><circle cx="290.3" cy="99.6" r="2.8"/><circle cx="293.5" cy="123.5" r="2.8"/><circle cx="294.5" cy="128.0" r="2.8"/><circle cx="295.3" cy="136.0" r="2.8"/><circle cx="298.1" cy="146.4" r="2.8"/><circle cx="307.1" cy="169.4" r="2.8"/><circle cx="310.6" cy="181.2" r="2.8"/><circle cx="312.9" cy="177.6" r="2.8"/><circle cx="316.5" cy="152.9" r="2.8"/><circle cx="323.5" cy="109.1" r="2.8"/><circle cx="327.8" cy="95.0" r="2.8"/><circle cx="328.7" cy="100.9" r="2.8"/><circle cx="329.4" cy="105.6" r="2.8"/><circle cx="333.1" cy="175.5" r="2.8"/><circle cx="341.8" cy="344.7" r="2.8"/><circle cx="345.9" cy="344.1" r="2.8"/><circle cx="350.0" cy="343.5" r="2.8"/><circle cx="354.7" cy="344.1" r="2.8"/><circle cx="359.4" cy="344.7" r="2.8"/><circle cx="365.3" cy="348.2" r="2.8"/><circle cx="368.9" cy="351.1" r="2.8"/><circle cx="372.4" cy="354.1" r="2.8"/><circle cx="375.9" cy="352.4" r="2.8"/><circle cx="379.4" cy="350.6" r="2.8"/><circle cx="383.5" cy="347.1" r="2.8"/><circle cx="387.6" cy="343.5" r="2.8"/><circle cx="391.1" cy="340.6" r="2.8"/><circle cx="394.7" cy="337.6" r="2.8"/><circle cx="400.6" cy="336.5" r="2.8"/><circle cx="404.1" cy="338.2" r="2.8"/><circle cx="407.6" cy="340.0" r="2.8"/><circle cx="413.5" cy="343.5" r="2.8"/><circle cx="421.8" cy="354.1" r="2.8"/><circle cx="425.3" cy="355.3" r="2.8"/><circle cx="428.8" cy="356.5" r="2.8"/><circle cx="432.4" cy="357.1" r="2.8"/><circle cx="435.9" cy="357.6" r="2.8"/><circle cx="441.8" cy="356.5" r="2.8"/><circle cx="445.3" cy="355.9" r="2.8"/><circle cx="448.8" cy="355.3" r="2.8"/><circle cx="453.0" cy="354.1" r="2.8"/><circle cx="457.1" cy="352.9" r="2.8"/><circle cx="461.2" cy="351.8" r="2.8"/><circle cx="465.3" cy="350.6" r="2.8"/><circle cx="469.4" cy="349.4" r="2.8"/><circle cx="473.5" cy="348.2" r="2.8"/><circle cx="477.6" cy="347.4" r="2.8"/><circle cx="481.8" cy="346.6" r="2.8"/><circle cx="485.9" cy="345.9" r="2.8"/><circle cx="490.0" cy="345.2" r="2.8"/><circle cx="494.1" cy="345.5" r="2.8"/><circle cx="498.2" cy="345.9" r="2.8"/><circle cx="502.4" cy="347.0" r="2.8"/><circle cx="506.5" cy="348.2" r="2.8"/><circle cx="510.6" cy="347.6" r="2.8"/><circle cx="514.7" cy="347.1" r="2.8"/><circle cx="518.8" cy="345.9" r="2.8"/><circle cx="522.9" cy="344.7" r="2.8"/></g>

<line x1="393" y1="89.6" x2="469" y2="89.6" stroke="#ff1a1a" stroke-width="1.1"/>
<g stroke="#ff1a1a" fill="none" stroke-width="1.15"><rect x="428.5" y="87.1" width="5.0" height="5.0"/></g>
<text x="481.0" y="94.7" class="lg">0mm</text>
<line x1="393" y1="106.6" x2="469" y2="106.6" stroke="#12c812" stroke-width="1.1"/>
<g stroke="#12c812" fill="none" stroke-width="1.15"><path d="M431.0,104.0L433.6,108.5L428.4,108.5Z"/></g>
<text x="481.0" y="111.7" class="lg">50mm</text>
<line x1="393" y1="123.4" x2="469" y2="123.4" stroke="#2020ff" stroke-width="1.1"/>
<g stroke="#2020ff" fill="none" stroke-width="1.15"><path d="M431.0,126.0L433.6,121.5L428.4,121.5Z"/></g>
<text x="481.0" y="128.5" class="lg">-50mm</text>
<line x1="393" y1="140.2" x2="469" y2="140.2" stroke="#00f0f0" stroke-width="1.1"/>
<g stroke="#00f0f0" fill="none" stroke-width="1.15"><circle cx="431.0" cy="140.2" r="2.8"/></g>
<text x="481.0" y="145.3" class="lg">100mm</text>
</svg>
</body></html>
